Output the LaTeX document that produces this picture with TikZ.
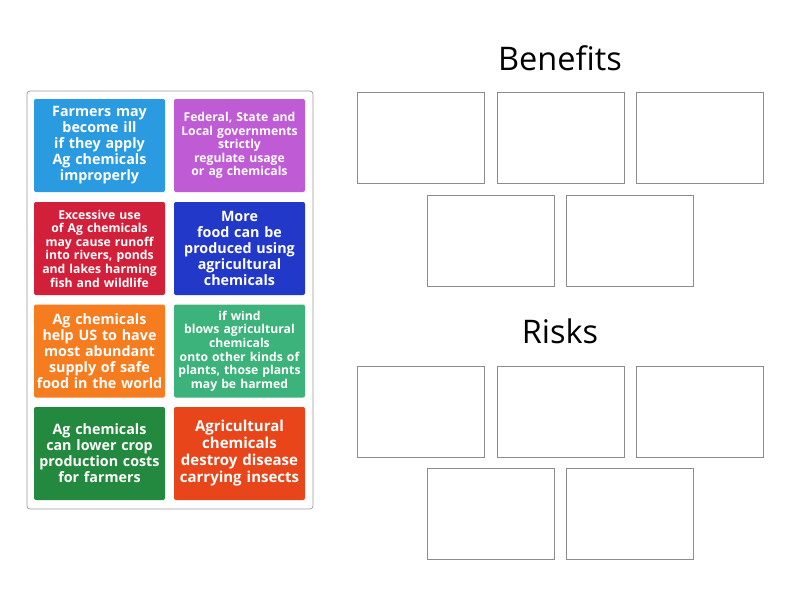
\documentclass[tikz,border=0pt]{standalone}
\usepackage{fontspec}
\setmainfont{Open Sans}
\definecolor{cblue}{HTML}{2A9BE0}
\definecolor{cpurple}{HTML}{C05BD6}
\definecolor{cred}{HTML}{D3203A}
\definecolor{cnavy}{HTML}{2238C8}
\definecolor{corange}{HTML}{F57C1F}
\definecolor{cteal}{HTML}{3BB37A}
\definecolor{cgreen}{HTML}{23893F}
\definecolor{cred2}{HTML}{E8461A}
\tikzset{
 card/.style={rounded corners=2pt,minimum width=131pt,minimum height=93pt,text width=127pt,align=center,text=white,font=\bfseries\fontsize{14.3}{16}\selectfont,inner sep=0pt},
 small/.style={font=\bfseries\fontsize{12.2}{13.6}\selectfont},
 slot/.style={draw=black!45,line width=0.6pt,minimum width=127pt,minimum height=91pt,inner sep=0pt},
 title/.style={font=\fontsize{32.5}{36}\selectfont}
}
\begin{document}
\begin{tikzpicture}[x=1pt,y=-1pt]
\useasboundingbox (0,0) rectangle (800,600);
\draw[rounded corners=3pt,draw=black!40,line width=0.7pt,fill=white] (27,91) rectangle (313,509);
\node[card,fill=cblue] (c1) at (99.5,145.5) {Farmers may\\become ill\\if they apply\\Ag chemicals\\improperly};
\node[card,small,fill=cpurple] (c2) at (239.5,145.5) {Federal, State and\\Local governments\\strictly\\regulate usage\\or ag chemicals};
\node[card,small,fill=cred] (c3) at (99.5,248.5) {Excessive use\\of Ag chemicals\\may cause runoff\\into rivers, ponds\\and lakes harming\\fish and wildlife};
\node[card,fill=cnavy] (c4) at (239.5,248.5) {More\\food can be\\produced using\\agricultural\\chemicals};
\node[card,fill=corange] (c5) at (99.5,351) {Ag chemicals\\help US to have\\most abundant\\supply of safe\\food in the world};
\node[card,small,fill=cteal] (c6) at (239.5,351) {if wind\\blows agricultural\\chemicals\\onto other kinds of\\plants, those plants\\may be harmed};
\node[card,fill=cgreen] (c7) at (99.5,453.5) {Ag chemicals\\can lower crop\\production costs\\for farmers};
\node[card,fill=cred2,font=\bfseries\fontsize{15}{17}\selectfont] (c8) at (239.5,453.5) {Agricultural\\chemicals\\destroy disease\\carrying insects};
\node[title] (tb) at (560,58) {Benefits};
\node[title] (tr) at (560,331) {Risks};
\node[slot] (b1) at (420.5,137.5) {};
\node[slot] (b2) at (560.5,137.5) {};
\node[slot] (b3) at (700,137.5) {};
\node[slot] (b4) at (490.5,240.5) {};
\node[slot] (b5) at (630,240.5) {};
\node[slot] (r1) at (420.5,411.5) {};
\node[slot] (r2) at (560.5,411.5) {};
\node[slot] (r3) at (700,411.5) {};
\node[slot] (r4) at (490.5,514) {};
\node[slot] (r5) at (630,514) {};
\end{tikzpicture}
\end{document}
